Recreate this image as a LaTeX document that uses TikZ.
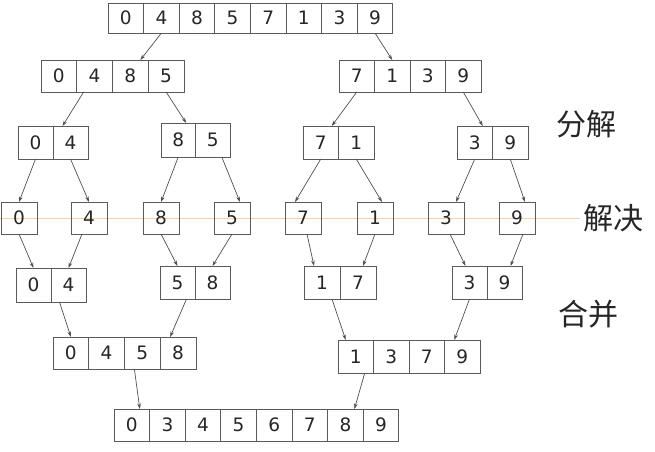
\documentclass[tikz,border=0pt]{standalone}
\usepackage{fontspec}
\setmainfont{DejaVu Sans}
\newfontfamily\cjk{Noto Sans CJK SC}
\usetikzlibrary{arrows.meta}
\definecolor{boxgray}{HTML}{5A5A5A}
\definecolor{arrgray}{HTML}{505050}
\definecolor{lineorange}{HTML}{F5D2AE}
\tikzset{
  cell/.style={draw=boxgray, line width=0.8pt, inner sep=0pt, outer sep=0pt, anchor=north west,
    font=\fontsize{18.5}{18.5}\selectfont, text=black!85},
  arr/.style={draw=arrgray, line width=0.7pt, -{Stealth[length=5.5pt,width=3.6pt]}},
  stage/.style={font=\cjk\fontsize{30}{30}\selectfont, text=black!85, inner sep=0pt},
}
% name, left x, top y, cell width, cell height, values
\newcommand\cellrow[6]{%
  \foreach \v [count=\i] in {#6} {
    \node[cell, minimum width=#4, minimum height=#5] (#1-\i) at ({#2+(\i-1)*#4}, #3) {\v};
  }%
}
\begin{document}
\begin{tikzpicture}[x=1pt, y=-1pt]
\path[use as bounding box, fill=white] (0,0) rectangle (655,451);
% orange line (behind)
\coordinate (ol) at (0,218);
\coordinate (or) at (580,218);
\draw[lineorange, line width=1pt] (ol) -- (or);
% rows
\cellrow{ra}{108}{3}{35.6}{30}{0,4,8,5,7,1,3,9}
\cellrow{rbl}{41}{60}{35.75}{32}{0,4,8,5}
\cellrow{rbr}{339}{60}{35.5}{32}{7,1,3,9}
\cellrow{rca}{18}{126}{35}{33}{0,4}
\cellrow{rcb}{161}{123}{34.5}{34}{8,5}
\cellrow{rcc}{303}{126}{35.5}{33}{7,1}
\cellrow{rcd}{457}{126}{35.5}{33}{3,9}
\node[cell, minimum width=36, minimum height=32] (s1) at (1,202) {0};
\node[cell, minimum width=36, minimum height=32] (s2) at (71,202) {4};
\node[cell, minimum width=36, minimum height=32] (s3) at (143,202) {8};
\node[cell, minimum width=36, minimum height=32] (s4) at (214,202) {5};
\node[cell, minimum width=36, minimum height=32] (s5) at (285,202) {7};
\node[cell, minimum width=36, minimum height=32] (s6) at (357,202) {1};
\node[cell, minimum width=36, minimum height=32] (s7) at (428,202) {3};
\node[cell, minimum width=36, minimum height=32] (s8) at (499,202) {9};
\cellrow{rea}{16}{268}{35}{34}{0,4}
\cellrow{reb}{160}{266}{35}{33}{5,8}
\cellrow{rec}{304}{266}{36}{33}{1,7}
\cellrow{red}{452}{266}{35}{33}{3,9}
\cellrow{rfl}{53}{337}{35.75}{32}{0,4,5,8}
\cellrow{rfr}{338}{340}{35.5}{33}{1,3,7,9}
\cellrow{rg}{114}{409}{35.6}{32}{0,3,4,5,6,7,8,9}
% stage labels
\node[stage] (fenjie) at (586,124) {分解};
\node[stage] (jiejue) at (613,218) {解决};
\node[stage] (hebing) at (588,314) {合并};
% arrows row 1 -> 2
\draw[arr] (ra-2.south) -- ([xshift=10]rbl-3.north);
\draw[arr] (ra-8.south) -- (rbr-2.north);
% row 2 -> 3
\draw[arr] ([xshift=-11]rbl-2.south) -- ([xshift=-8]rca-2.north);
\draw[arr] (rbl-4.south) -- ([xshift=8]rcb-1.north);
\draw[arr] (rbr-1.south) -- ([xshift=11]rcc-1.north);
\draw[arr] (rbr-4.south) -- ([xshift=8]rcd-1.north);
% row 3 -> 4
\draw[arr] (rca-1.south) -- (s1.north);
\draw[arr] (rca-2.south) -- (s2.north);
\draw[arr] (rcb-1.south) -- (s3.north);
\draw[arr] ([xshift=9]rcb-2.south) -- ([xshift=8]s4.north);
\draw[arr] (rcc-1.south) -- ([xshift=-8]s5.north);
\draw[arr] (rcc-2.south) -- ([xshift=7]s6.north);
\draw[arr] (rcd-1.south) -- ([xshift=10]s7.north);
\draw[arr] (rcd-2.south) -- ([xshift=8]s8.north);
% row 4 -> 5
\draw[arr] (s1.south) -- (rea-1.north);
\draw[arr] ([xshift=-7]s2.south) -- (rea-2.north);
\draw[arr] (s3.south) -- (reb-1.north);
\draw[arr] (s4.south) -- (reb-2.north);
\draw[arr] ([xshift=4]s5.south) -- ([xshift=-8]rec-1.north);
\draw[arr] (s6.south) -- ([xshift=5]rec-2.north);
\draw[arr] ([xshift=4]s7.south) -- ([xshift=-4]red-1.north);
\draw[arr] ([xshift=6]s8.south) -- ([xshift=6]red-2.north);
% row 5 -> 6
\draw[arr] ([xshift=-9]rea-2.south) -- (rfl-1.north);
\draw[arr] ([xshift=9]reb-1.south) -- ([xshift=-8]rfl-4.north);
\draw[arr] ([xshift=10]rec-1.south) -- ([xshift=-10]rfr-1.north);
\draw[arr] (red-1.south) -- ([xshift=-8]rfr-4.north);
% row 6 -> 7
\draw[arr] ([xshift=-8]rfl-3.south) -- ([xshift=8]rg-1.north);
\draw[arr] ([xshift=9]rfr-1.south) -- ([xshift=9]rg-7.north);
\end{tikzpicture}
\end{document}
